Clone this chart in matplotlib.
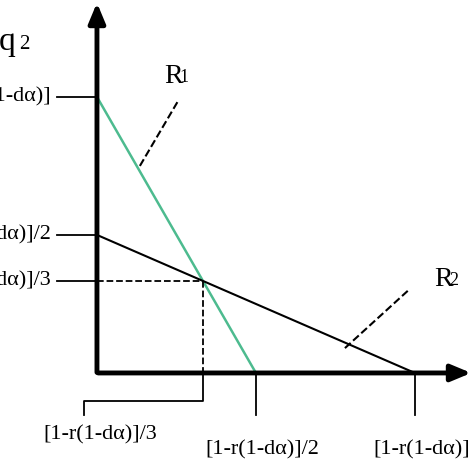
import matplotlib.pyplot as plt

# duopoly reaction functions (normalized units: a = 1-r(1-d alpha))
r1_x = [0.0, 0.5]
r1_y = [1.0, 0.0]
r2_x = [0.0, 1.0]
r2_y = [0.5, 0.0]
eq = (1/3, 1/3)
y_ticks = [1.0, 0.5, 1/3]
y_labels = ['[1-r(1-d\u03b1)]', '[1-r(1-d\u03b1)]/2', '[1-r(1-d\u03b1)]/3']
x_ticks = [1/3, 0.5, 1.0]
x_labels = ['[1-r(1-d\u03b1)]/3', '[1-r(1-d\u03b1)]/2', '[1-r(1-d\u03b1)]']

plt.rcParams['font.family'] = ['Liberation Serif', 'DejaVu Serif']
fig = plt.figure(figsize=(4.74, 4.74), dpi=100)
ax = fig.add_axes([0, 0, 1, 1])
ax.set_xlim(-0.305, 1.186)
ax.set_ylim(-0.366, 1.351)
ax.axis('off')

# axes with arrows
ax.annotate('', xy=(1.186, 0), xytext=(-0.005, 0),
            arrowprops=dict(arrowstyle='-|>,head_length=1.2,head_width=0.5', lw=3.5, color='black'))
ax.annotate('', xy=(0, 1.351), xytext=(0, -0.008),
            arrowprops=dict(arrowstyle='-|>,head_length=1.2,head_width=0.5', lw=3.5, color='black'))

ax.plot(r1_x, r1_y, color='#4dbb8f', lw=1.8)
ax.plot(r2_x, r2_y, color='black', lw=1.5)
ax.plot([0, eq[0]], [eq[1], eq[1]], 'k--', lw=1.3)
ax.plot([eq[0], eq[0]], [eq[1], 0], 'k--', lw=1.3)

# y ticks
for yv, lab in zip(y_ticks, y_labels):
    ax.plot([-0.126, 0], [yv, yv], color='black', lw=1.3)
    ax.text(-0.145, yv, lab, ha='right', va='center', fontsize=16)

# x ticks
bx = [eq[0], eq[0], -0.04, -0.04]
by = [0, -0.101, -0.101, -0.152]
ax.plot(bx, by, color='black', lw=1.3)
ax.text(0.01, -0.19, x_labels[0], ha='center', va='top', fontsize=16)
for xv, lab in zip(x_ticks[1:], x_labels[1:]):
    ax.plot([xv, xv], [0, -0.152], color='black', lw=1.3)
    ax.text(xv + 0.02, -0.245, lab, ha='center', va='top', fontsize=16)

# axis / curve names with plain small subscripts
ax.text(-0.31, 1.2, 'q', ha='left', va='center', fontsize=24)
ax.text(-0.245, 1.19, '2', ha='left', va='center', fontsize=15)
ax.text(0.21, 1.075, 'R', ha='left', va='center', fontsize=20)
ax.text(0.258, 1.07, '1', ha='left', va='center', fontsize=13)
ax.text(1.06, 0.34, 'R', ha='left', va='center', fontsize=20)
ax.text(1.108, 0.335, '2', ha='left', va='center', fontsize=13)
ax.plot([0.135, 0.255], [0.75, 0.985], 'k--', lw=1.5)
ax.plot([0.78, 0.98], [0.09, 0.3], 'k--', lw=1.5)

fig.savefig('out.png', dpi=100)
